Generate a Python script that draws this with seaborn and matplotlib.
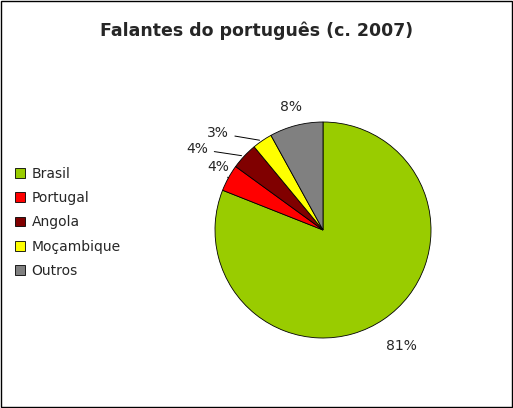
import numpy as np
import matplotlib.pyplot as plt
import seaborn as sns

paises = ['Brasil', 'Portugal', 'Angola', 'Moçambique', 'Outros']
valores = [81, 4, 4, 3, 8]
cores = ['#99CC00', '#FF0000', '#800000', '#FFFF00', '#808080']
rotulos = ['81%', '4%', '4%', '3%', '8%']

sns.set_style("white")
plt.rcParams['font.family'] = ['DejaVu Sans']

fig = plt.figure(figsize=(5.13, 4.08), dpi=100)
fig.patch.set_facecolor('white')
# moldura
fig.add_artist(plt.Rectangle((0.002, 0.002), 0.996, 0.996, transform=fig.transFigure,
                             fill=False, edgecolor='black', linewidth=1))

fig.text(0.5, 0.925, 'Falantes do português (c. 2007)', ha='center', va='center',
         fontsize=12.5, fontweight='bold')

w, h = 216 / 513, 216 / 408
ax = fig.add_axes([323 / 513 - w / 2, 1 - 230 / 408 - h / 2, w, h])
wedges, _ = ax.pie(valores, colors=cores, startangle=90, counterclock=False,
                   wedgeprops=dict(edgecolor='black', linewidth=0.6))
ax.set_xlim(-1, 1)
ax.set_ylim(-1, 1)
ax.set_aspect('equal')
ax.axis('off')

# posições dos rótulos (raio, desvio angular) por fatia
ajustes = [(1.3, 0), (1.05, -5), (1.3, 8), (1.25, 10), (1.18, 0)]
linhas = [False, True, True, True, False]
for wd, txt, (r, da), ln in zip(wedges, rotulos, ajustes, linhas):
    ang = np.deg2rad((wd.theta1 + wd.theta2) / 2)
    ang2 = ang + np.deg2rad(da)
    xt, yt = r * np.cos(ang2), r * np.sin(ang2)
    if ln:
        ax.annotate(txt, xy=(np.cos(ang), np.sin(ang)), xytext=(xt, yt),
                    ha='right' if xt < -0.7 else 'center', va='center', fontsize=10,
                    arrowprops=dict(arrowstyle='-', color='black', lw=0.7,
                                    connectionstyle='angle,angleA=0,angleB=90' if False else None),
                    annotation_clip=False)
    else:
        ax.text(xt, yt, txt, ha='center', va='center', fontsize=10, clip_on=False)

leg = fig.legend(wedges, paises, loc='center left', bbox_to_anchor=(0.005, 0.455),
                 frameon=False, fontsize=10, handlelength=0.7, handleheight=0.7,
                 labelspacing=0.75, handletextpad=0.5)

fig.savefig('out.png', dpi=100)
